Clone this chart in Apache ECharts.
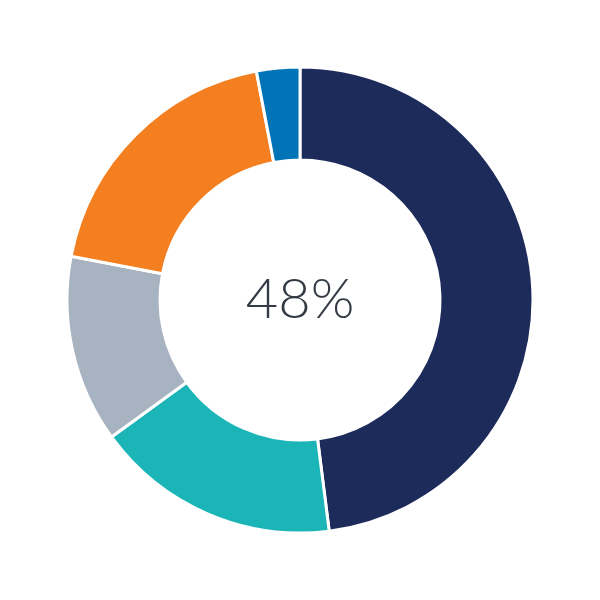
<!DOCTYPE html>
<html>
<head>
<meta charset="utf-8">
<script src="https://cdn.jsdelivr.net/npm/echarts@6/dist/echarts.min.js"></script>
<style>
  html, body { margin: 0; padding: 0; background: #fff; }
  #chart { width: 600px; height: 600px; }
</style>
</head>
<body>
<div id="chart"></div>
<script>
// slice order is clockwise from 12 o'clock
var names = ['A', 'B', 'C', 'D', 'E'];
var values = [48, 17, 13, 19, 3];
var colors = ['#1c2b5a', '#1bb5b8', '#a8b3c1', '#f37f21', '#0074b7'];
var centerLabel = '48%';

var myChart = echarts.init(document.getElementById('chart'));

var option = {
    animation: false,
    title: {
        text: centerLabel,
        left: 'center',
        top: 'middle',
        padding: [0, 0, 6, 0],
        textStyle: {
            fontFamily: 'Lato',
            fontWeight: 300,
            fontSize: 56,
            color: '#343b45'
        }
    },
    series: [
        {
            type: 'pie',
            center: ['50%', '50%'],
            radius: [140, 233],
            startAngle: 90,
            clockwise: true,
            label: { show: false },
            labelLine: { show: false },
            itemStyle: {
                borderColor: '#ffffff',
                borderWidth: 3
            },
            emphasis: { disabled: true },
            data: names.map(function (n, i) {
                return { name: n, value: values[i], itemStyle: { color: colors[i] } };
            })
        }
    ]
};

myChart.setOption(option);
</script>
</body>
</html>
